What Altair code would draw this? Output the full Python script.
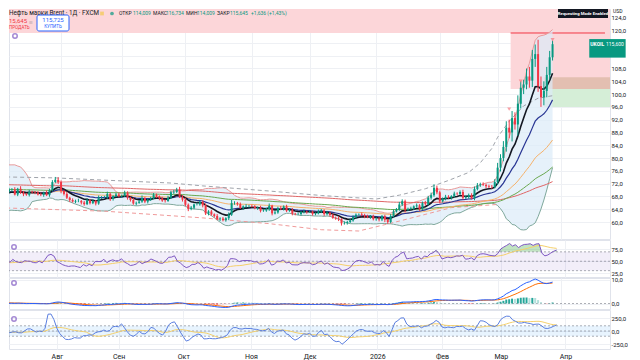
import altair as alt
import numpy as np
import pandas as pd

# ---------------- data ----------------
# hidden warm-up closes (before the visible window), feed the indicators only
warm_close = [66.5, 67.0, 69.8, 69.4, 74.2, 73.2, 76.5, 76.7, 77.0, 77.0,
              71.5, 67.1, 67.7, 67.7, 67.8, 66.7, 67.1, 69.1, 68.8, 68.3]

# daily closes, 2025-07-07 .. 2026-03-27 (trading days)
close = [
    69.6, 70.1, 70.2, 68.6, 70.4, 69.2, 68.7, 68.5, 69.5, 69.3,
    69.2, 68.6, 68.5, 69.2, 68.4, 70.0, 72.5, 73.2, 72.5, 69.7,
    68.8, 67.6, 66.9, 66.4, 66.6, 66.6, 66.1, 65.6, 66.8, 65.9,
    66.6, 65.8, 67.7, 67.7, 67.7, 68.8, 67.2, 68.1, 68.6, 68.1,
    68.2, 69.1, 67.6, 66.9, 65.8, 66.0, 66.4, 67.5, 66.4, 67.0,
    67.4, 68.5, 68.0, 67.4, 66.7, 66.6, 67.6, 69.3, 69.4, 70.1,
    67.9, 67.0, 65.4, 64.1, 64.5, 65.5, 65.5, 66.3, 65.2, 62.7,
    63.3, 62.4, 61.9, 60.9, 61.1, 60.6, 61.2, 62.3, 65.9, 65.9,
    65.6, 64.4, 64.9, 65.0, 65.0, 64.9, 64.4, 64.5, 63.5, 63.6,
    64.0, 65.1, 62.7, 63.0, 64.4, 64.2, 64.9, 63.5, 63.8, 62.6,
    62.5, 62.5, 63.1, 63.3, 63.2, 63.2, 62.5, 62.7, 63.3, 63.6,
    62.5, 62.9, 62.2, 61.3, 61.1, 60.9, 59.6, 59.7, 60.0, 60.5,
    61.6, 62.3, 62.4, 62.2, 61.8, 61.5, 61.9, 60.9, 61.0, 60.8,
    61.8, 60.7, 60.0, 61.9, 63.3, 63.9, 65.5, 66.5, 63.8, 64.1,
    64.3, 64.9, 65.2, 64.1, 65.9, 65.6, 67.6, 68.4, 70.7, 69.3,
    66.5, 67.3, 67.9, 67.6, 68.1, 68.9, 68.8, 69.4, 67.6, 67.8,
    68.4, 67.4, 70.3, 71.5, 71.8, 71.6, 71.2, 71.0, 70.9, 72.5,
    77.0, 80.0, 83.5, 89.5, 88.0, 92.5, 90.5, 97.0, 102.0, 103.0,
    105.5, 104.2, 111.0, 112.5, 102.5, 99.0, 101.0, 106.0, 111.5, 115.6,
]
up_wick = [
    .5, .6, .4, .7, .3, .8, .5, .4, .6, .3,
    .4, .5, .6, .3, .7, .4, .6, .9, .8, .5,
    .4, .6, .3, .5, .4, .7, .3, .5, .6, .4,
    .5, .3, .6, .4, .5, .7, .4, .3, .5, .6,
    .4, .7, .5, .3, .6, .4, .5, .8, .4, .3,
    .5, .6, .4, .3, .5, .4, .6, .5, .7, .6,
    .9, .5, .6, .4, .5, .3, .6, .4, .5, .6,
    .4, .5, .3, .6, .4, .5, .3, .7, 1.0, .6,
    .4, .5, .3, .6, .4, .5, .4, .3, .6, .5,
    .4, .7, .3, .5, .4, .6, .3, .5, .4, .6,
    .3, .5, .4, .6, .3, .5, .4, .3, .6, .5,
    .4, .6, .3, .5, .4, .7, .3, .5, .4, .6,
    .5, .4, .3, .6, .4, .5, .3, .4, .5, .6,
    .4, .5, .3, .6, .7, .5, .8, .6, .5, .4,
    .5, .3, .6, .4, .5, .7, .6, .8, 1.1, .7,
    .5, .4, .6, .5, .3, .6, .4, .5, .7, .4,
    .5, .6, .8, .7, .5, .6, .4, .5, .6, .9,
    1.5, 1.2, 1.8, 2.0, 2.5, 2.2, 1.8, 2.6, 2.0, 1.5,
    2.5, 3.0, 2.8, 3.0, 4.5, 3.0, 3.0, 2.5, 2.0, 1.1,
]
low_wick = [
    .4, .5, .6, .3, .5, .4, .6, .3, .5, .4,
    .5, .3, .4, .6, .3, .5, .4, .3, .6, .7,
    .5, .4, .6, .3, .5, .4, .6, .5, .3, .4,
    .3, .6, .4, .5, .3, .4, .6, .5, .3, .4,
    .5, .3, .6, .5, .4, .6, .3, .4, .5, .6,
    .4, .3, .5, .6, .4, .5, .3, .4, .5, .3,
    .4, .6, .5, .7, .4, .5, .3, .4, .6, .5,
    .6, .4, .5, .3, .6, .4, .5, .6, .4, .5,
    .5, .3, .6, .4, .5, .3, .4, .6, .5, .3,
    .4, .5, .6, .3, .4, .5, .6, .4, .3, .5,
    .4, .3, .5, .4, .6, .3, .5, .4, .3, .5,
    .6, .4, .5, .3, .4, .6, .7, .4, .5, .3,
    .4, .5, .3, .4, .6, .3, .5, .4, .5, .6,
    .5, .7, .6, .4, .5, .3, .4, .5, .8, .4,
    .3, .5, .4, .6, .3, .5, .4, .6, .5, .6,
    .7, .4, .5, .3, .6, .4, .5, .3, .6, .4,
    .5, .3, .6, .4, .5, .3, .6, .4, .5, .4,
    .8, 1.2, 1.0, 1.5, 1.8, 2.8, 1.6, 3.5, 1.5, 2.0,
    1.5, 2.2, 2.0, 2.5, 1.8, 3.0, 2.5, 2.0, 1.5, 1.0,
]
ema_start = {50: 69.3, 100: 70.2, 200: 71.7}

month_labels = ["Авг", "Сен", "Окт", "Ноя", "Дек", "2026", "Фев", "Мар", "Апр"]
month_idx = [19, 40, 62, 85, 105, 128, 150, 170, 192]
price_ticks = list(range(60, 125, 4))
hidden_price_labels = [112, 116]          # covered by the price tag
rsi_ticks = [25, 50, 75]
rsi_levels = [30, 50, 70]
macd_ticks = [0, 10]
cci_ticks = [-250, 0, 250]
cci_levels = [-100, 0, 100]

# dashed envelope lines
env_up_i = [0, 17, 34, 57, 68, 91, 109, 128, 136, 145, 153, 160, 164, 168, 170, 174, 179, 184, 189]
env_up_v = [74.1, 73.8, 73.1, 72.2, 71.3, 69.7, 68.3, 67.2, 68.4, 70.4, 73.0, 75.5, 78.5, 83.0, 86.5, 91.5, 96.3, 98.7, 99.5]
env_lo_i = [0, 34, 68, 91, 109, 122, 136, 154, 170]
env_lo_v = [64.4, 63.4, 61.3, 59.5, 57.6, 57.2, 60.3, 64.5, 65.5]

# drawing-tool zones
zone_i0 = [0, 174.5, 186, 186]
zone_i1 = [230, 230, 230, 230]
zone_lo = [119.1, 101.6, 101.6, 96.0]
zone_hi = [140.0, 119.1, 105.3, 101.6]
zone_col = ["#fcd6d9", "#fcd6d9", "#e3bfb1", "#d5eed7"]

mark_i = [174, 178, 189]
mark_p = [95.3, 104.0, 117.0]

# ---------------- indicators ----------------
n = len(close)
o = np.array([warm_close[-1]] + close[:-1])
c = np.array(close)
h = np.maximum(o, c) + np.array(up_wick)
l = np.minimum(o, c) - np.array(low_wick)

c_all = pd.Series(warm_close + close, dtype=float)


def ema(vals, span, seed):
    a = 2.0 / (span + 1)
    e = seed
    out = []
    for v in vals:
        e = e + a * (v - e)
        out.append(e)
    return np.array(out)


df = pd.DataFrame({"i": np.arange(n), "o": o, "c": c, "h": h, "l": l})
df["col"] = np.where(c >= o, "#089981", "#f23645")
df["ema9"] = ema(c_all, 9, warm_close[0])[-n:]
df["ema21"] = ema(c_all, 21, warm_close[0])[-n:]
for k in (50, 100, 200):
    df[f"ema{k}"] = ema(close, k, ema_start[k])

mid = c_all.rolling(20).mean()
sd = c_all.rolling(20).std(ddof=0)
df["bb_hi"] = (mid + 2 * sd).values[-n:]
df["bb_lo"] = (mid - 2 * sd).values[-n:]

d = c_all.diff().fillna(0)
ag = d.clip(lower=0).ewm(alpha=1 / 14, adjust=False).mean()
al = (-d.clip(upper=0)).ewm(alpha=1 / 14, adjust=False).mean()
rsi = 100 - 100 / (1 + ag / al)
rsi_ma = rsi.rolling(14, min_periods=1).mean()
df["rsi"] = rsi.values[-n:]
df["rsi_ma"] = rsi_ma.values[-n:]
df["ob_hi"] = np.maximum(df["rsi"], 70)
df["ob_lo"] = 70.0
df["os_lo"] = np.minimum(df["rsi"], 30)
df["os_hi"] = 30.0

e12 = c_all.ewm(span=12, adjust=False).mean()
e26 = c_all.ewm(span=26, adjust=False).mean()
macd = e12 - e26
sig = macd.ewm(span=9, adjust=False).mean()
hist = macd - sig
df["macd"] = macd.values[-n:]
df["sig"] = sig.values[-n:]
hv = hist.values[-n:]
hp = hist.values[-n - 1:-1]
df["hist"] = hv
df["hcol"] = np.where(hv >= 0, np.where(hv >= hp, "#26a69a", "#b2dfdb"),
                      np.where(hv < hp, "#ff5252", "#ffcdd2"))

tp = pd.Series(list(warm_close) + list((h + l + c) / 3.0))
tp_ma = tp.rolling(20).mean()
md = tp.rolling(20).apply(lambda w: np.mean(np.abs(w - w.mean())), raw=True)
cci = (tp - tp_ma) / (0.015 * md)
df["cci"] = cci.values[-n:]
df["cci_ma"] = cci.rolling(14, min_periods=1).mean().values[-n:]

# ---------------- layout constants ----------------
PXI = 2.94                       # pixels per trading day in the reference
XMIN = 8 / PXI
W = 601
XMAX = XMIN + W / PXI
EXT = XMIN + 648 / PXI          # right edge of the drawing (clipped by padding)
RIGHT_PAD = 624 - 648

zones = pd.DataFrame({"i0": zone_i0, "i1": zone_i1, "lo": zone_lo, "hi": zone_hi, "col": zone_col})
env_up = pd.DataFrame({"i": env_up_i, "v": env_up_v})
env_lo = pd.DataFrame({"i": env_lo_i, "v": env_lo_v})
marks = pd.DataFrame({"i": mark_i, "p": mark_p})
topline = pd.DataFrame({"i0": [174.5], "i1": [XMAX], "p": [119.1]})
tag = pd.DataFrame({"i0": [XMAX - 16 / PXI], "i1": [XMAX], "t0": [XMAX], "t1": [XMAX + 21 / PXI],
                    "lo": [111.4], "hi": [117.2], "p": [close[-1]],
                    "txt": ["UKOIL"], "ptxt": [f"{close[-1]:.3f}".replace(".", ",")]})
extent = pd.DataFrame({"i0": [XMAX], "i1": [EXT], "lo": [55.0], "hi": [56.0]})
rsi_band = pd.DataFrame({"i0": [0], "i1": [230], "lo": [rsi_levels[0]], "hi": [rsi_levels[-1]]})
rsi_lv = pd.DataFrame({"lvl": rsi_levels})
cci_band = pd.DataFrame({"i0": [0], "i1": [230], "lo": [cci_levels[0]], "hi": [cci_levels[-1]]})
cci_lv = pd.DataFrame({"lvl": cci_levels})
zero_lv = pd.DataFrame({"lvl": [0]})
dummy = pd.DataFrame({"k": [0]})

# ---------------- chart ----------------
GRID = "#eef0f4"
FONT = "Roboto"
TXT = "#131722"

lab_expr = ("[" + ",".join(f"'{m}'" for m in month_labels) + "][indexof(["
            + ",".join(str(v) for v in month_idx) + "], datum.value)]")
sx = alt.Scale(domain=[XMIN, XMAX], nice=False, zero=False)
ax_top = alt.Axis(values=month_idx, labels=False, ticks=False, domain=False,
                  grid=True, gridColor=GRID, title=None)
ax_bot = alt.Axis(values=month_idx, labelExpr=lab_expr, ticks=False, domain=False,
                  grid=True, gridColor=GRID, title=None, labelFontSize=7,
                  labelColor=TXT, labelPadding=3, labelFont=FONT)


def mk_y(domain, ticks, hide=()):
    sc = alt.Scale(domain=domain, nice=False, zero=False)
    expr = "replace(replace(format(datum.value, '.1f'), '.', ','), '\u2212', '-')"
    if hide:
        cond = " || ".join(f"datum.value == {v}" for v in hide)
        expr = f"({cond}) ? '' : {expr}"
    ax = alt.Axis(orient="right", values=ticks, grid=True, gridColor=GRID, ticks=False,
                  domain=False, title=None, labelFontSize=6, labelColor=TXT,
                  labelPadding=1, labelFont=FONT, labelOverlap=False, labelExpr=expr)

    def f(field):
        return alt.Y(f"{field}:Q", scale=sc, axis=ax)
    return f


def X(field, bottom=False):
    return alt.X(f"{field}:Q", scale=sx, axis=ax_bot if bottom else ax_top)


def note(txt, px, py, size=6, color=TXT, align="left", weight="normal", baseline="top"):
    return alt.Chart(dummy).mark_text(
        text=txt, align=align, baseline=baseline, fontSize=size, color=color,
        font=FONT, fontWeight=weight).encode(x=alt.value(px), y=alt.value(py))


def gear(px, py):
    return alt.Chart(dummy).mark_point(shape="circle", filled=False, color="#7e57c2",
                                       size=20, strokeWidth=1.5).encode(
        x=alt.value(px), y=alt.value(py))


Ym = mk_y([54.7, 126.6], price_ticks, hidden_price_labels)
base = alt.Chart(df)


def line(field, color, width=1.0):
    return base.mark_line(color=color, strokeWidth=width, clip=True).encode(x=X("i"), y=Ym(field))


main_layers = [
    alt.Chart(zones).mark_rect(clip=True).encode(
        x=X("i0"), x2="i1", y=Ym("lo"), y2="hi", color=alt.Color("col:N", scale=None)),
    alt.Chart(topline).mark_rule(color="#f23645", strokeWidth=1, clip=True).encode(
        x=X("i0"), x2="i1", y=Ym("p")),
    base.mark_area(color="#dcebf8", opacity=0.7, clip=True).encode(
        x=X("i"), y=Ym("bb_lo"), y2="bb_hi"),
    line("bb_hi", "#e99a9a", 1.0),
    line("bb_lo", "#7fa89c", 1.0),
    alt.Chart(env_up).mark_line(color="#a0a4ab", strokeWidth=1, strokeDash=[4, 3], clip=True).encode(
        x=X("i"), y=Ym("v")),
    alt.Chart(env_lo).mark_line(color="#f09a9a", strokeWidth=1, strokeDash=[4, 3], clip=True).encode(
        x=X("i"), y=Ym("v")),
    line("ema200", "#e06666", 1.0),
    line("ema100", "#6aa84f", 1.0),
    line("ema50", "#f6b26b", 1.0),
    line("ema21", "#283593", 1.2),
    line("ema9", "#131722", 1.6),
    base.mark_rule(strokeWidth=1, clip=True).encode(
        x=X("i"), y=Ym("l"), y2="h", color=alt.Color("col:N", scale=None)),
    base.mark_bar(size=2, clip=True).encode(
        x=X("i"), y=Ym("o"), y2="c", color=alt.Color("col:N", scale=None)),
    alt.Chart(marks).mark_point(shape="triangle-down", filled=True, size=16,
                                color="#f7767e", clip=True).encode(x=X("i"), y=Ym("p")),
    alt.Chart(tag).mark_rect(color="#089981").encode(
        x=X("i0"), x2="i1", y=Ym("lo"), y2="hi"),
    alt.Chart(tag).mark_text(color="white", fontSize=5, font=FONT, fontWeight="bold",
                             align="center").encode(
        x=X("i0"), y=Ym("p"), text="txt:N", xOffset=alt.value(8)),
    alt.Chart(tag).mark_rect(color="#089981").encode(
        x=X("t0"), x2="t1", y=Ym("lo"), y2="hi"),
    alt.Chart(tag).mark_text(color="white", fontSize=5, font=FONT, align="left").encode(
        x=X("t0"), y=Ym("p"), text="ptxt:N", xOffset=alt.value(1)),
    alt.Chart(extent).mark_rect(opacity=0).encode(x=X("i0"), x2="i1", y=Ym("lo"), y2="hi"),
    # header (TradingView UI)
    note("Нефть марки Brent · 1Д · FXCM", 0, 1, size=6.3),
    alt.Chart(dummy).mark_square(color="#f2c94c", size=14).encode(x=alt.value(93), y=alt.value(4.5)),
    alt.Chart(dummy).mark_circle(color="#089981", size=14).encode(x=alt.value(103), y=alt.value(4.5)),
    note("ОТКР", 110, 2, 5), note("114,009", 124, 2, 5, "#089981"),
    note("МАКС", 144, 2, 5), note("116,734", 157, 2, 5, "#089981"),
    note("МИН", 177, 2, 5), note("114,009", 188, 2, 5, "#089981"),
    note("ЗАКР", 208, 2, 5), note("115,645", 221, 2, 5, "#089981"),
    note("+1,636 (+1,43%)", 242, 2, 5, "#089981"),
    note("15,645", 0, 9, 6, "#f23645"), note("ПРОДАТЬ", 0, 16, 4.5, "#f23645"),
    note("≡", 20, 10, 7, "#787b86"),
    alt.Chart(dummy).mark_rect(fill="white", stroke="#2962ff", strokeWidth=1, cornerRadius=2).encode(
        x=alt.value(28), x2=alt.value(60), y=alt.value(6), y2=alt.value(22)),
    note("115,725", 44, 8, 6, "#2962ff", align="center"),
    note("КУПИТЬ", 44, 15, 4.5, "#2962ff", align="center"),
    gear(6, 27),
    alt.Chart(dummy).mark_rect(color="#131722").encode(
        x=alt.value(549), x2=alt.value(599), y=alt.value(0), y2=alt.value(9)),
    note("Requesting Mode Enabled", 574, 4.5, 4.3, "white", align="center", weight="bold",
         baseline="middle"),
    note("USD", 604, 0, 5),
]
main = alt.layer(*main_layers).properties(width=W, height=230)

Yr = mk_y([16.5, 95.2], rsi_ticks)
rsi_chart = alt.layer(
    alt.Chart(rsi_band).mark_rect(color="#7e57c2", opacity=0.1, clip=True).encode(
        x=X("i0"), x2="i1", y=Yr("lo"), y2="hi"),
    base.mark_area(color="#4caf50", opacity=0.35, clip=True).encode(x=X("i"), y=Yr("ob_lo"), y2="ob_hi"),
    base.mark_area(color="#f23645", opacity=0.3, clip=True).encode(x=X("i"), y=Yr("os_lo"), y2="os_hi"),
    alt.Chart(rsi_lv).mark_rule(color="#787b86", strokeDash=[2, 2], strokeWidth=1, opacity=0.6).encode(
        y=Yr("lvl")),
    base.mark_line(color="#f5d06b", strokeWidth=1, clip=True).encode(x=X("i"), y=Yr("rsi_ma")),
    base.mark_line(color="#7e57c2", strokeWidth=1, clip=True).encode(x=X("i"), y=Yr("rsi")),
    gear(5, 7),
).properties(width=W, height=37)

Yd = mk_y([-2.34, 10.85], macd_ticks)
macd_chart = alt.layer(
    alt.Chart(zero_lv).mark_rule(color="#787b86", strokeDash=[2, 2], strokeWidth=1, opacity=0.6).encode(
        y=Yd("lvl")),
    base.mark_bar(size=2, clip=True).encode(x=X("i"), y=Yd("hist"), color=alt.Color("hcol:N", scale=None)),
    base.mark_line(color="#ff6d00", strokeWidth=1, clip=True).encode(x=X("i"), y=Yd("sig")),
    base.mark_line(color="#2962ff", strokeWidth=1, clip=True).encode(x=X("i"), y=Yd("macd")),
    gear(5, 5),
).properties(width=W, height=31)

Yc = mk_y([-346, 404], cci_ticks)
cci_chart = alt.layer(
    alt.Chart(cci_band).mark_rect(color="#2196f3", opacity=0.1, clip=True).encode(
        x=X("i0", True), x2="i1", y=Yc("lo"), y2="hi"),
    alt.Chart(cci_lv).mark_rule(color="#787b86", strokeDash=[2, 2], strokeWidth=1, opacity=0.6).encode(
        y=Yc("lvl")),
    base.mark_line(color="#f5d06b", strokeWidth=1, clip=True).encode(x=X("i", True), y=Yc("cci_ma")),
    base.mark_line(color="#5b7fe0", strokeWidth=1, clip=True).encode(x=X("i", True), y=Yc("cci")),
    gear(5, 9),
).properties(width=W, height=39)

chart = alt.vconcat(main, rsi_chart, macd_chart, cci_chart, spacing=1, bounds="flush").properties(
    padding={"left": 0, "right": RIGHT_PAD, "top": 0, "bottom": 0}, background="white"
).configure_view(stroke="#e0e3eb")

chart.save("out.html", embed_options={"renderer": "svg", "actions": False})
